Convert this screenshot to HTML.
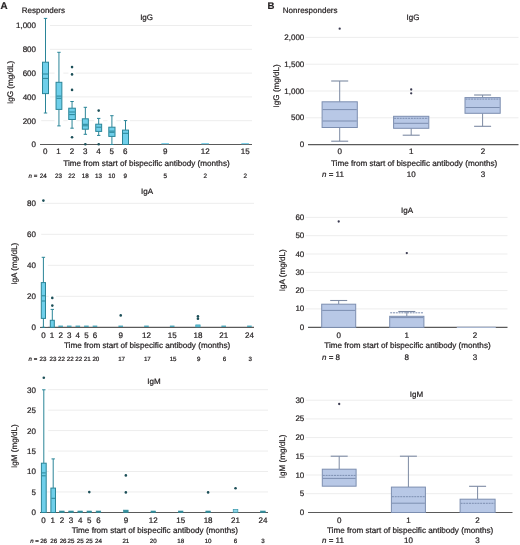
<!DOCTYPE html>
<html><head><meta charset="utf-8"><title>Immunoglobulin levels</title>
<style>
html,body{margin:0;padding:0;background:#fff;}
body{width:520px;height:545px;overflow:hidden;}
svg{display:block;font-family:"Liberation Sans", Arial, sans-serif;}
svg text{fill:#231f20;text-rendering:geometricPrecision;stroke:#231f20;stroke-width:0.22px;}
</style></head><body>
<svg width="520" height="545" viewBox="0 0 520 545">
<rect width="520" height="545" fill="#fff"/>
<text x="0.40" y="8.70" font-size="9.8" text-anchor="start" font-weight="bold">A</text>
<text x="21.80" y="13.40" font-size="8" text-anchor="start" >Responders</text>
<text x="267.40" y="8.80" font-size="9.6" text-anchor="start" font-weight="bold">B</text>
<text x="282.80" y="13.20" font-size="8" text-anchor="start" >Nonresponders</text>
<line x1="41.20" y1="25.50" x2="252.00" y2="25.50" stroke="#ededed" stroke-width="1" />
<text x="36.00" y="28.40" font-size="8" text-anchor="end" >1,000</text>
<line x1="41.20" y1="49.30" x2="252.00" y2="49.30" stroke="#ededed" stroke-width="1" />
<text x="36.00" y="52.20" font-size="8" text-anchor="end" >800</text>
<line x1="41.20" y1="73.10" x2="252.00" y2="73.10" stroke="#ededed" stroke-width="1" />
<text x="36.00" y="76.00" font-size="8" text-anchor="end" >600</text>
<line x1="41.20" y1="96.90" x2="252.00" y2="96.90" stroke="#ededed" stroke-width="1" />
<text x="36.00" y="99.80" font-size="8" text-anchor="end" >400</text>
<line x1="41.20" y1="120.70" x2="252.00" y2="120.70" stroke="#ededed" stroke-width="1" />
<text x="36.00" y="123.60" font-size="8" text-anchor="end" >200</text>
<text x="36.00" y="147.40" font-size="8" text-anchor="end" >0</text>
<line x1="40.00" y1="144.50" x2="252.00" y2="144.50" stroke="#5a5a5a" stroke-width="1.2" />
<text x="146.60" y="19.50" font-size="8" text-anchor="middle" >IgG</text>
<text x="13.00" y="82.40" font-size="8.1" text-anchor="middle" transform="rotate(-90 13.0 82.4)">IgG (mg/dL)</text>
<rect x="41.10" y="16.90" width="8.80" height="45.30" fill="#fff" stroke="none" stroke-width="0" />
<rect x="41.10" y="93.60" width="8.80" height="20.90" fill="#fff" stroke="none" stroke-width="0" />
<line x1="45.50" y1="18.40" x2="45.50" y2="62.20" stroke="#2a8598" stroke-width="1" />
<line x1="43.80" y1="18.40" x2="47.20" y2="18.40" stroke="#2a8598" stroke-width="1" />
<line x1="45.50" y1="93.60" x2="45.50" y2="113.00" stroke="#2a8598" stroke-width="1" />
<line x1="43.80" y1="113.00" x2="47.20" y2="113.00" stroke="#2a8598" stroke-width="1" />
<rect x="42.50" y="62.20" width="6.00" height="31.40" fill="#6fcfea" stroke="#2a8598" stroke-width="1" />
<line x1="43.00" y1="74.00" x2="48.00" y2="74.00" stroke="#2a8598" stroke-width="1" />
<line x1="43.00" y1="78.40" x2="48.00" y2="78.40" stroke="#2a8598" stroke-width="1" />
<rect x="54.55" y="50.80" width="8.80" height="31.50" fill="#fff" stroke="none" stroke-width="0" />
<rect x="54.55" y="109.40" width="8.80" height="18.00" fill="#fff" stroke="none" stroke-width="0" />
<line x1="58.95" y1="52.30" x2="58.95" y2="82.30" stroke="#2a8598" stroke-width="1" />
<line x1="57.25" y1="52.30" x2="60.65" y2="52.30" stroke="#2a8598" stroke-width="1" />
<line x1="58.95" y1="109.40" x2="58.95" y2="125.90" stroke="#2a8598" stroke-width="1" />
<line x1="57.25" y1="125.90" x2="60.65" y2="125.90" stroke="#2a8598" stroke-width="1" />
<rect x="56.05" y="82.30" width="5.80" height="27.10" fill="#6fcfea" stroke="#2a8598" stroke-width="1" />
<line x1="56.55" y1="96.10" x2="61.35" y2="96.10" stroke="#2a8598" stroke-width="1" />
<line x1="56.55" y1="98.30" x2="61.35" y2="98.30" stroke="#2a8598" stroke-width="1" />
<rect x="67.65" y="100.00" width="8.80" height="8.20" fill="#fff" stroke="none" stroke-width="0" />
<rect x="67.65" y="119.50" width="8.80" height="10.20" fill="#fff" stroke="none" stroke-width="0" />
<rect x="68.45" y="64.60" width="7.20" height="5.00" fill="#fff" stroke="none" stroke-width="0" />
<rect x="68.45" y="71.90" width="7.20" height="5.00" fill="#fff" stroke="none" stroke-width="0" />
<rect x="68.45" y="87.40" width="7.20" height="5.00" fill="#fff" stroke="none" stroke-width="0" />
<rect x="68.45" y="134.70" width="7.20" height="5.00" fill="#fff" stroke="none" stroke-width="0" />
<line x1="72.05" y1="101.50" x2="72.05" y2="108.20" stroke="#2a8598" stroke-width="1" />
<line x1="70.35" y1="101.50" x2="73.75" y2="101.50" stroke="#2a8598" stroke-width="1" />
<line x1="72.05" y1="119.50" x2="72.05" y2="128.20" stroke="#2a8598" stroke-width="1" />
<line x1="70.35" y1="128.20" x2="73.75" y2="128.20" stroke="#2a8598" stroke-width="1" />
<rect x="68.75" y="108.20" width="6.60" height="11.30" fill="#6fcfea" stroke="#2a8598" stroke-width="1" />
<line x1="69.25" y1="112.00" x2="74.85" y2="112.00" stroke="#2a8598" stroke-width="1" />
<line x1="69.25" y1="114.60" x2="74.85" y2="114.60" stroke="#2a8598" stroke-width="1" />
<circle cx="72.05" cy="67.10" r="1.3" fill="#1c4f58"/>
<circle cx="72.05" cy="74.40" r="1.3" fill="#1c4f58"/>
<circle cx="72.05" cy="89.90" r="1.3" fill="#1c4f58"/>
<circle cx="72.05" cy="137.20" r="1.3" fill="#1c4f58"/>
<rect x="80.95" y="105.80" width="8.80" height="13.00" fill="#fff" stroke="none" stroke-width="0" />
<rect x="80.95" y="129.20" width="8.80" height="6.60" fill="#fff" stroke="none" stroke-width="0" />
<line x1="85.35" y1="107.30" x2="85.35" y2="118.80" stroke="#2a8598" stroke-width="1" />
<line x1="83.65" y1="107.30" x2="87.05" y2="107.30" stroke="#2a8598" stroke-width="1" />
<line x1="85.35" y1="129.20" x2="85.35" y2="134.30" stroke="#2a8598" stroke-width="1" />
<line x1="83.65" y1="134.30" x2="87.05" y2="134.30" stroke="#2a8598" stroke-width="1" />
<rect x="82.35" y="118.80" width="6.00" height="10.40" fill="#6fcfea" stroke="#2a8598" stroke-width="1" />
<line x1="82.85" y1="124.30" x2="87.85" y2="124.30" stroke="#2a8598" stroke-width="1" />
<line x1="82.85" y1="125.80" x2="87.85" y2="125.80" stroke="#2a8598" stroke-width="1" />
<circle cx="85.35" cy="144.30" r="1.3" fill="#1c4f58"/>
<rect x="94.30" y="116.90" width="8.80" height="7.30" fill="#fff" stroke="none" stroke-width="0" />
<rect x="94.30" y="131.40" width="8.80" height="5.50" fill="#fff" stroke="none" stroke-width="0" />
<rect x="95.10" y="108.10" width="7.20" height="5.00" fill="#fff" stroke="none" stroke-width="0" />
<line x1="98.70" y1="118.40" x2="98.70" y2="124.20" stroke="#2a8598" stroke-width="1" />
<line x1="97.00" y1="118.40" x2="100.40" y2="118.40" stroke="#2a8598" stroke-width="1" />
<line x1="98.70" y1="131.40" x2="98.70" y2="135.40" stroke="#2a8598" stroke-width="1" />
<line x1="97.00" y1="135.40" x2="100.40" y2="135.40" stroke="#2a8598" stroke-width="1" />
<rect x="95.75" y="124.20" width="5.90" height="7.20" fill="#6fcfea" stroke="#2a8598" stroke-width="1" />
<line x1="96.25" y1="127.20" x2="101.15" y2="127.20" stroke="#2a8598" stroke-width="1" />
<circle cx="98.70" cy="110.60" r="1.3" fill="#1c4f58"/>
<circle cx="98.70" cy="144.30" r="1.3" fill="#1c4f58"/>
<rect x="107.50" y="114.20" width="8.80" height="13.00" fill="#fff" stroke="none" stroke-width="0" />
<rect x="107.50" y="136.40" width="8.80" height="7.40" fill="#fff" stroke="none" stroke-width="0" />
<line x1="111.90" y1="115.70" x2="111.90" y2="127.20" stroke="#2a8598" stroke-width="1" />
<line x1="110.20" y1="115.70" x2="113.60" y2="115.70" stroke="#2a8598" stroke-width="1" />
<line x1="111.90" y1="136.40" x2="111.90" y2="144.50" stroke="#2a8598" stroke-width="1" />
<line x1="110.20" y1="144.50" x2="113.60" y2="144.50" stroke="#2a8598" stroke-width="1" />
<rect x="108.80" y="127.20" width="6.20" height="9.20" fill="#6fcfea" stroke="#2a8598" stroke-width="1" />
<line x1="109.30" y1="131.10" x2="114.50" y2="131.10" stroke="#2a8598" stroke-width="1" />
<line x1="109.30" y1="132.30" x2="114.50" y2="132.30" stroke="#2a8598" stroke-width="1" />
<rect x="121.10" y="119.10" width="8.80" height="11.00" fill="#fff" stroke="none" stroke-width="0" />
<line x1="125.50" y1="120.60" x2="125.50" y2="130.10" stroke="#2a8598" stroke-width="1" />
<line x1="123.80" y1="120.60" x2="127.20" y2="120.60" stroke="#2a8598" stroke-width="1" />
<rect x="122.50" y="130.10" width="6.00" height="14.40" fill="#6fcfea" stroke="#2a8598" stroke-width="1" />
<line x1="123.00" y1="133.30" x2="128.00" y2="133.30" stroke="#2a8598" stroke-width="1" />
<rect x="161.37" y="143.00" width="7.60" height="1.20" fill="#7fd2ea" stroke="none" stroke-width="0" />
<rect x="201.36" y="143.00" width="7.60" height="1.20" fill="#7fd2ea" stroke="none" stroke-width="0" />
<rect x="241.35" y="143.00" width="7.60" height="1.20" fill="#7fd2ea" stroke="none" stroke-width="0" />
<text x="45.20" y="154.00" font-size="8" text-anchor="middle" >0</text>
<text x="58.53" y="154.00" font-size="8" text-anchor="middle" >1</text>
<text x="71.86" y="154.00" font-size="8" text-anchor="middle" >2</text>
<text x="85.19" y="154.00" font-size="8" text-anchor="middle" >3</text>
<text x="98.52" y="154.00" font-size="8" text-anchor="middle" >4</text>
<text x="111.85" y="154.00" font-size="8" text-anchor="middle" >5</text>
<text x="125.18" y="154.00" font-size="8" text-anchor="middle" >6</text>
<text x="165.17" y="154.00" font-size="8" text-anchor="middle" >9</text>
<text x="205.16" y="154.00" font-size="8" text-anchor="middle" >12</text>
<text x="245.15" y="154.00" font-size="8" text-anchor="middle" >15</text>
<text x="146.50" y="165.50" font-size="8.15" text-anchor="middle" >Time from start of bispecific antibody (months)</text>
<text x="28.60" y="177.60" font-size="6.2" text-anchor="start" ><tspan font-style="italic">n</tspan> =</text>
<text x="43.30" y="177.60" font-size="6.3" text-anchor="middle" >24</text>
<text x="58.53" y="177.60" font-size="6.3" text-anchor="middle" >23</text>
<text x="71.86" y="177.60" font-size="6.3" text-anchor="middle" >22</text>
<text x="85.19" y="177.60" font-size="6.3" text-anchor="middle" >18</text>
<text x="98.52" y="177.60" font-size="6.3" text-anchor="middle" >13</text>
<text x="111.85" y="177.60" font-size="6.3" text-anchor="middle" >10</text>
<text x="125.18" y="177.60" font-size="6.3" text-anchor="middle" >9</text>
<text x="165.17" y="177.60" font-size="6.3" text-anchor="middle" >5</text>
<text x="205.16" y="177.60" font-size="6.3" text-anchor="middle" >2</text>
<text x="245.15" y="177.60" font-size="6.3" text-anchor="middle" >2</text>
<line x1="41.20" y1="203.30" x2="254.00" y2="203.30" stroke="#ededed" stroke-width="1" />
<text x="36.00" y="206.20" font-size="8" text-anchor="end" >80</text>
<line x1="41.20" y1="234.30" x2="254.00" y2="234.30" stroke="#ededed" stroke-width="1" />
<text x="36.00" y="237.20" font-size="8" text-anchor="end" >60</text>
<line x1="41.20" y1="265.30" x2="254.00" y2="265.30" stroke="#ededed" stroke-width="1" />
<text x="36.00" y="268.20" font-size="8" text-anchor="end" >40</text>
<line x1="41.20" y1="296.30" x2="254.00" y2="296.30" stroke="#ededed" stroke-width="1" />
<text x="36.00" y="299.20" font-size="8" text-anchor="end" >20</text>
<text x="36.00" y="330.20" font-size="8" text-anchor="end" >0</text>
<line x1="40.00" y1="327.30" x2="254.00" y2="327.30" stroke="#5a5a5a" stroke-width="1.2" />
<text x="147.00" y="193.90" font-size="8" text-anchor="middle" >IgA</text>
<text x="16.90" y="263.80" font-size="8.1" text-anchor="middle" transform="rotate(-90 16.9 263.8)">IgA (mg/dL)</text>
<rect x="39.00" y="255.80" width="8.80" height="26.80" fill="#fff" stroke="none" stroke-width="0" />
<rect x="39.00" y="318.40" width="8.80" height="8.20" fill="#fff" stroke="none" stroke-width="0" />
<rect x="39.80" y="198.10" width="7.20" height="5.00" fill="#fff" stroke="none" stroke-width="0" />
<line x1="43.40" y1="257.30" x2="43.40" y2="282.60" stroke="#2a8598" stroke-width="1" />
<line x1="41.70" y1="257.30" x2="45.10" y2="257.30" stroke="#2a8598" stroke-width="1" />
<line x1="43.40" y1="318.40" x2="43.40" y2="327.30" stroke="#2a8598" stroke-width="1" />
<line x1="41.70" y1="327.30" x2="45.10" y2="327.30" stroke="#2a8598" stroke-width="1" />
<rect x="41.30" y="282.60" width="4.20" height="35.80" fill="#6fcfea" stroke="#2a8598" stroke-width="1" />
<line x1="41.80" y1="295.80" x2="45.00" y2="295.80" stroke="#2a8598" stroke-width="1" />
<line x1="41.80" y1="301.00" x2="45.00" y2="301.00" stroke="#2a8598" stroke-width="1" />
<circle cx="43.40" cy="200.60" r="1.3" fill="#1c4f58"/>
<rect x="47.90" y="307.90" width="8.80" height="12.40" fill="#fff" stroke="none" stroke-width="0" />
<rect x="48.70" y="295.40" width="7.20" height="5.00" fill="#fff" stroke="none" stroke-width="0" />
<rect x="48.70" y="303.10" width="7.20" height="5.00" fill="#fff" stroke="none" stroke-width="0" />
<line x1="52.30" y1="309.40" x2="52.30" y2="320.30" stroke="#2a8598" stroke-width="1" />
<line x1="50.60" y1="309.40" x2="54.00" y2="309.40" stroke="#2a8598" stroke-width="1" />
<rect x="50.30" y="320.30" width="4.00" height="7.00" fill="#6fcfea" stroke="#2a8598" stroke-width="1" />
<circle cx="52.30" cy="297.90" r="1.3" fill="#1c4f58"/>
<circle cx="52.30" cy="305.60" r="1.3" fill="#1c4f58"/>
<rect x="58.36" y="325.60" width="4.60" height="1.30" fill="#3d9fb3" stroke="none" stroke-width="0" />
<rect x="66.94" y="325.60" width="4.60" height="1.30" fill="#3d9fb3" stroke="none" stroke-width="0" />
<rect x="75.52" y="325.60" width="4.60" height="1.30" fill="#3d9fb3" stroke="none" stroke-width="0" />
<rect x="84.10" y="325.60" width="4.60" height="1.30" fill="#3d9fb3" stroke="none" stroke-width="0" />
<rect x="92.68" y="325.60" width="4.60" height="1.30" fill="#3d9fb3" stroke="none" stroke-width="0" />
<rect x="118.42" y="325.60" width="4.60" height="1.30" fill="#3d9fb3" stroke="none" stroke-width="0" />
<rect x="144.16" y="325.60" width="4.60" height="1.30" fill="#3d9fb3" stroke="none" stroke-width="0" />
<rect x="169.90" y="325.60" width="4.60" height="1.30" fill="#3d9fb3" stroke="none" stroke-width="0" />
<rect x="221.38" y="325.60" width="4.60" height="1.30" fill="#3d9fb3" stroke="none" stroke-width="0" />
<rect x="247.12" y="325.60" width="4.60" height="1.30" fill="#3d9fb3" stroke="none" stroke-width="0" />
<rect x="195.74" y="324.90" width="4.40" height="2.00" fill="#5cc0da" stroke="#3d9fb3" stroke-width="0.7" />
<circle cx="120.72" cy="315.40" r="1.3" fill="#1c4f58"/>
<circle cx="197.94" cy="316.40" r="1.3" fill="#1c4f58"/>
<circle cx="197.94" cy="318.80" r="1.3" fill="#1c4f58"/>
<text x="43.50" y="338.30" font-size="8" text-anchor="middle" >0</text>
<text x="52.08" y="338.30" font-size="8" text-anchor="middle" >1</text>
<text x="60.66" y="338.30" font-size="8" text-anchor="middle" >2</text>
<text x="69.24" y="338.30" font-size="8" text-anchor="middle" >3</text>
<text x="77.82" y="338.30" font-size="8" text-anchor="middle" >4</text>
<text x="86.40" y="338.30" font-size="8" text-anchor="middle" >5</text>
<text x="94.98" y="338.30" font-size="8" text-anchor="middle" >6</text>
<text x="120.72" y="338.30" font-size="8" text-anchor="middle" >9</text>
<text x="146.46" y="338.30" font-size="8" text-anchor="middle" >12</text>
<text x="172.20" y="338.30" font-size="8" text-anchor="middle" >15</text>
<text x="197.94" y="338.30" font-size="8" text-anchor="middle" >18</text>
<text x="223.68" y="338.30" font-size="8" text-anchor="middle" >21</text>
<text x="249.42" y="338.30" font-size="8" text-anchor="middle" >24</text>
<text x="147.10" y="348.00" font-size="8.15" text-anchor="middle" >Time from start of bispecific antibody (months)</text>
<text x="28.60" y="360.50" font-size="6.1" text-anchor="start" ><tspan font-style="italic">n</tspan> =</text>
<text x="42.90" y="360.50" font-size="6.2" text-anchor="middle" >23</text>
<text x="52.98" y="360.50" font-size="6.2" text-anchor="middle" >23</text>
<text x="61.56" y="360.50" font-size="6.2" text-anchor="middle" >22</text>
<text x="70.14" y="360.50" font-size="6.2" text-anchor="middle" >22</text>
<text x="78.72" y="360.50" font-size="6.2" text-anchor="middle" >22</text>
<text x="87.30" y="360.50" font-size="6.2" text-anchor="middle" >21</text>
<text x="95.88" y="360.50" font-size="6.2" text-anchor="middle" >20</text>
<text x="121.62" y="360.50" font-size="6.2" text-anchor="middle" >17</text>
<text x="147.36" y="360.50" font-size="6.2" text-anchor="middle" >17</text>
<text x="173.10" y="360.50" font-size="6.2" text-anchor="middle" >15</text>
<text x="198.84" y="360.50" font-size="6.2" text-anchor="middle" >9</text>
<text x="224.58" y="360.50" font-size="6.2" text-anchor="middle" >6</text>
<text x="250.32" y="360.50" font-size="6.2" text-anchor="middle" >3</text>
<line x1="41.20" y1="389.70" x2="268.00" y2="389.70" stroke="#ededed" stroke-width="1" />
<text x="36.00" y="392.60" font-size="8" text-anchor="end" >30</text>
<line x1="41.20" y1="410.15" x2="268.00" y2="410.15" stroke="#ededed" stroke-width="1" />
<text x="36.00" y="413.05" font-size="8" text-anchor="end" >25</text>
<line x1="41.20" y1="430.60" x2="268.00" y2="430.60" stroke="#ededed" stroke-width="1" />
<text x="36.00" y="433.50" font-size="8" text-anchor="end" >20</text>
<line x1="41.20" y1="451.05" x2="268.00" y2="451.05" stroke="#ededed" stroke-width="1" />
<text x="36.00" y="453.95" font-size="8" text-anchor="end" >15</text>
<line x1="41.20" y1="471.50" x2="268.00" y2="471.50" stroke="#ededed" stroke-width="1" />
<text x="36.00" y="474.40" font-size="8" text-anchor="end" >10</text>
<line x1="41.20" y1="491.95" x2="268.00" y2="491.95" stroke="#ededed" stroke-width="1" />
<text x="36.00" y="494.85" font-size="8" text-anchor="end" >5</text>
<text x="36.00" y="515.30" font-size="8" text-anchor="end" >0</text>
<line x1="40.00" y1="512.50" x2="268.00" y2="512.50" stroke="#5a5a5a" stroke-width="1.2" />
<text x="154.00" y="384.20" font-size="8" text-anchor="middle" >IgM</text>
<text x="16.80" y="446.20" font-size="8.1" text-anchor="middle" transform="rotate(-90 16.8 446.2)">IgM (mg/dL)</text>
<rect x="39.40" y="388.30" width="8.80" height="74.90" fill="#fff" stroke="none" stroke-width="0" />
<rect x="40.20" y="375.20" width="7.20" height="5.00" fill="#fff" stroke="none" stroke-width="0" />
<line x1="43.80" y1="389.80" x2="43.80" y2="463.20" stroke="#2a8598" stroke-width="1" />
<line x1="42.10" y1="389.80" x2="45.50" y2="389.80" stroke="#2a8598" stroke-width="1" />
<rect x="41.40" y="463.20" width="4.80" height="49.30" fill="#6fcfea" stroke="#2a8598" stroke-width="1" />
<line x1="41.90" y1="472.90" x2="45.70" y2="472.90" stroke="#2a8598" stroke-width="1" />
<line x1="41.90" y1="475.80" x2="45.70" y2="475.80" stroke="#2a8598" stroke-width="1" />
<circle cx="43.80" cy="377.70" r="1.3" fill="#1c4f58"/>
<rect x="48.80" y="457.40" width="8.80" height="30.70" fill="#fff" stroke="none" stroke-width="0" />
<line x1="53.20" y1="458.90" x2="53.20" y2="488.10" stroke="#2a8598" stroke-width="1" />
<line x1="51.50" y1="458.90" x2="54.90" y2="458.90" stroke="#2a8598" stroke-width="1" />
<rect x="50.90" y="488.10" width="4.60" height="24.40" fill="#6fcfea" stroke="#2a8598" stroke-width="1" />
<line x1="51.40" y1="498.30" x2="55.00" y2="498.30" stroke="#2a8598" stroke-width="1" />
<rect x="59.58" y="511.00" width="4.60" height="1.50" fill="#35919f" stroke="#2f8a98" stroke-width="0.6" />
<rect x="68.72" y="511.00" width="4.60" height="1.50" fill="#35919f" stroke="#2f8a98" stroke-width="0.6" />
<rect x="77.86" y="511.00" width="4.60" height="1.50" fill="#35919f" stroke="#2f8a98" stroke-width="0.6" />
<rect x="87.00" y="511.00" width="4.60" height="1.50" fill="#35919f" stroke="#2f8a98" stroke-width="0.6" />
<rect x="96.14" y="511.00" width="4.60" height="1.50" fill="#35919f" stroke="#2f8a98" stroke-width="0.6" />
<rect x="150.98" y="511.00" width="4.60" height="1.50" fill="#35919f" stroke="#2f8a98" stroke-width="0.6" />
<rect x="178.40" y="511.00" width="4.60" height="1.50" fill="#35919f" stroke="#2f8a98" stroke-width="0.6" />
<rect x="205.82" y="511.00" width="4.60" height="1.50" fill="#35919f" stroke="#2f8a98" stroke-width="0.6" />
<rect x="260.66" y="511.00" width="4.60" height="1.50" fill="#35919f" stroke="#2f8a98" stroke-width="0.6" />
<rect x="123.56" y="510.10" width="4.60" height="2.40" fill="#35919f" stroke="#2f8a98" stroke-width="0.6" />
<rect x="233.24" y="509.40" width="4.60" height="2.90" fill="#8fd6ea" stroke="#3a98ab" stroke-width="0.7" />
<circle cx="89.30" cy="492.10" r="1.3" fill="#1c4f58"/>
<circle cx="125.86" cy="475.40" r="1.3" fill="#1c4f58"/>
<circle cx="125.86" cy="492.40" r="1.3" fill="#1c4f58"/>
<circle cx="208.12" cy="492.40" r="1.3" fill="#1c4f58"/>
<circle cx="235.54" cy="488.30" r="1.3" fill="#1c4f58"/>
<text x="43.60" y="523.30" font-size="8" text-anchor="middle" >0</text>
<text x="52.74" y="523.30" font-size="8" text-anchor="middle" >1</text>
<text x="61.88" y="523.30" font-size="8" text-anchor="middle" >2</text>
<text x="71.02" y="523.30" font-size="8" text-anchor="middle" >3</text>
<text x="80.16" y="523.30" font-size="8" text-anchor="middle" >4</text>
<text x="89.30" y="523.30" font-size="8" text-anchor="middle" >5</text>
<text x="98.44" y="523.30" font-size="8" text-anchor="middle" >6</text>
<text x="125.86" y="523.30" font-size="8" text-anchor="middle" >9</text>
<text x="153.28" y="523.30" font-size="8" text-anchor="middle" >12</text>
<text x="180.70" y="523.30" font-size="8" text-anchor="middle" >15</text>
<text x="208.12" y="523.30" font-size="8" text-anchor="middle" >18</text>
<text x="235.54" y="523.30" font-size="8" text-anchor="middle" >21</text>
<text x="262.96" y="523.30" font-size="8" text-anchor="middle" >24</text>
<text x="154.80" y="533.00" font-size="8.15" text-anchor="middle" >Time from start of bispecific antibody (months)</text>
<text x="30.20" y="543.10" font-size="6.1" text-anchor="start" ><tspan font-style="italic">n</tspan> =</text>
<text x="43.60" y="543.10" font-size="6.2" text-anchor="middle" >26</text>
<text x="53.74" y="543.10" font-size="6.2" text-anchor="middle" >26</text>
<text x="63.08" y="543.10" font-size="6.2" text-anchor="middle" >26</text>
<text x="71.02" y="543.10" font-size="6.2" text-anchor="middle" >25</text>
<text x="80.16" y="543.10" font-size="6.2" text-anchor="middle" >25</text>
<text x="89.30" y="543.10" font-size="6.2" text-anchor="middle" >25</text>
<text x="98.44" y="543.10" font-size="6.2" text-anchor="middle" >24</text>
<text x="125.86" y="543.10" font-size="6.2" text-anchor="middle" >21</text>
<text x="153.28" y="543.10" font-size="6.2" text-anchor="middle" >20</text>
<text x="180.70" y="543.10" font-size="6.2" text-anchor="middle" >18</text>
<text x="208.12" y="543.10" font-size="6.2" text-anchor="middle" >10</text>
<text x="235.54" y="543.10" font-size="6.2" text-anchor="middle" >6</text>
<text x="262.96" y="543.10" font-size="6.2" text-anchor="middle" >3</text>
<line x1="305.50" y1="37.40" x2="518.50" y2="37.40" stroke="#ededed" stroke-width="1" />
<text x="304.30" y="39.90" font-size="8" text-anchor="end" >2,000</text>
<line x1="305.50" y1="64.20" x2="518.50" y2="64.20" stroke="#ededed" stroke-width="1" />
<text x="304.30" y="66.70" font-size="8" text-anchor="end" >1,500</text>
<line x1="305.50" y1="91.00" x2="518.50" y2="91.00" stroke="#ededed" stroke-width="1" />
<text x="304.30" y="93.50" font-size="8" text-anchor="end" >1,000</text>
<line x1="305.50" y1="117.80" x2="518.50" y2="117.80" stroke="#ededed" stroke-width="1" />
<text x="304.30" y="120.30" font-size="8" text-anchor="end" >500</text>
<text x="304.30" y="147.10" font-size="8" text-anchor="end" >0</text>
<line x1="308.00" y1="144.60" x2="518.50" y2="144.60" stroke="#5a5a5a" stroke-width="1.2" />
<text x="413.00" y="20.00" font-size="8" text-anchor="middle" >IgG</text>
<text x="278.60" y="85.80" font-size="8.1" text-anchor="middle" transform="rotate(-90 278.6 85.8)">IgG (mg/dL)</text>
<line x1="339.70" y1="81.00" x2="339.70" y2="101.80" stroke="#7d8aa3" stroke-width="1" />
<line x1="331.20" y1="81.00" x2="348.20" y2="81.00" stroke="#7d8aa3" stroke-width="1.1" />
<line x1="339.70" y1="127.50" x2="339.70" y2="141.20" stroke="#7d8aa3" stroke-width="1" />
<line x1="331.20" y1="141.20" x2="348.20" y2="141.20" stroke="#7d8aa3" stroke-width="1.1" />
<rect x="322.10" y="101.80" width="35.20" height="25.70" fill="#b8c8e6" stroke="#7c8eb0" stroke-width="1" />
<line x1="322.60" y1="109.60" x2="356.80" y2="109.60" stroke="#7c8eb0" stroke-width="1" />
<line x1="322.60" y1="121.00" x2="356.80" y2="121.00" stroke="#7c8eb0" stroke-width="1" />
<circle cx="339.70" cy="28.70" r="1.15" fill="#3a3a50"/>
<line x1="411.20" y1="128.30" x2="411.20" y2="135.20" stroke="#7d8aa3" stroke-width="1" />
<line x1="402.70" y1="135.20" x2="419.70" y2="135.20" stroke="#7d8aa3" stroke-width="1.1" />
<rect x="393.60" y="116.30" width="35.20" height="12.00" fill="#b8c8e6" stroke="#7c8eb0" stroke-width="1" />
<line x1="394.10" y1="123.30" x2="428.30" y2="123.30" stroke="#7c8eb0" stroke-width="1" />
<line x1="394.10" y1="118.30" x2="428.30" y2="118.30" stroke="#7c8eb0" stroke-width="1" stroke-dasharray="2 0.8"/>
<circle cx="411.20" cy="89.50" r="1.15" fill="#3a3a50"/>
<circle cx="411.20" cy="93.30" r="1.15" fill="#3a3a50"/>
<line x1="482.60" y1="95.00" x2="482.60" y2="97.60" stroke="#7d8aa3" stroke-width="1" />
<line x1="474.10" y1="95.00" x2="491.10" y2="95.00" stroke="#7d8aa3" stroke-width="1.1" />
<line x1="482.60" y1="113.30" x2="482.60" y2="126.30" stroke="#7d8aa3" stroke-width="1" />
<line x1="474.10" y1="126.30" x2="491.10" y2="126.30" stroke="#7d8aa3" stroke-width="1.1" />
<rect x="465.00" y="97.60" width="35.20" height="15.70" fill="#b8c8e6" stroke="#7c8eb0" stroke-width="1" />
<line x1="465.50" y1="107.50" x2="499.70" y2="107.50" stroke="#7c8eb0" stroke-width="1" />
<line x1="465.50" y1="99.10" x2="499.70" y2="99.10" stroke="#7c8eb0" stroke-width="1" stroke-dasharray="2 0.8"/>
<text x="339.70" y="154.00" font-size="8" text-anchor="middle" >0</text>
<text x="411.30" y="154.00" font-size="8" text-anchor="middle" >1</text>
<text x="482.90" y="154.00" font-size="8" text-anchor="middle" >2</text>
<text x="414.10" y="165.60" font-size="8.15" text-anchor="middle" >Time from start of bispecific antibody (months)</text>
<text x="322.00" y="177.00" font-size="8" text-anchor="start" ><tspan font-style="italic">n</tspan> = 11</text>
<text x="411.30" y="177.00" font-size="8" text-anchor="middle" >10</text>
<text x="482.90" y="177.00" font-size="8" text-anchor="middle" >3</text>
<line x1="305.50" y1="217.40" x2="507.50" y2="217.40" stroke="#ededed" stroke-width="1" />
<text x="304.30" y="219.90" font-size="8" text-anchor="end" >60</text>
<line x1="305.50" y1="235.70" x2="507.50" y2="235.70" stroke="#ededed" stroke-width="1" />
<text x="304.30" y="238.20" font-size="8" text-anchor="end" >50</text>
<line x1="305.50" y1="254.00" x2="507.50" y2="254.00" stroke="#ededed" stroke-width="1" />
<text x="304.30" y="256.50" font-size="8" text-anchor="end" >40</text>
<line x1="305.50" y1="272.30" x2="507.50" y2="272.30" stroke="#ededed" stroke-width="1" />
<text x="304.30" y="274.80" font-size="8" text-anchor="end" >30</text>
<line x1="305.50" y1="290.60" x2="507.50" y2="290.60" stroke="#ededed" stroke-width="1" />
<text x="304.30" y="293.10" font-size="8" text-anchor="end" >20</text>
<line x1="305.50" y1="308.90" x2="507.50" y2="308.90" stroke="#ededed" stroke-width="1" />
<text x="304.30" y="311.40" font-size="8" text-anchor="end" >10</text>
<text x="304.30" y="329.70" font-size="8" text-anchor="end" >0</text>
<line x1="308.00" y1="327.40" x2="507.50" y2="327.40" stroke="#5a5a5a" stroke-width="1.2" />
<text x="407.00" y="213.20" font-size="8" text-anchor="middle" >IgA</text>
<text x="285.00" y="270.30" font-size="8.1" text-anchor="middle" transform="rotate(-90 285.0 270.3)">IgA (mg/dL)</text>
<line x1="338.70" y1="300.50" x2="338.70" y2="304.20" stroke="#7d8aa3" stroke-width="1" />
<line x1="330.20" y1="300.50" x2="347.20" y2="300.50" stroke="#7d8aa3" stroke-width="1.1" />
<rect x="321.70" y="304.20" width="34.00" height="23.20" fill="#b8c8e6" stroke="#7c8eb0" stroke-width="1" />
<line x1="322.20" y1="310.40" x2="355.20" y2="310.40" stroke="#7c8eb0" stroke-width="1" />
<circle cx="338.70" cy="221.50" r="1.15" fill="#3a3a50"/>
<line x1="406.80" y1="311.50" x2="406.80" y2="316.30" stroke="#7d8aa3" stroke-width="1" />
<line x1="398.30" y1="311.50" x2="415.30" y2="311.50" stroke="#7d8aa3" stroke-width="1.1" />
<rect x="389.70" y="316.30" width="34.20" height="11.10" fill="#b8c8e6" stroke="#7c8eb0" stroke-width="1" />
<line x1="390.20" y1="317.60" x2="423.40" y2="317.60" stroke="#7c8eb0" stroke-width="1" />
<line x1="390.20" y1="312.80" x2="423.40" y2="312.80" stroke="#7c8eb0" stroke-width="1" stroke-dasharray="2 0.8"/>
<circle cx="406.80" cy="253.10" r="1.15" fill="#3a3a50"/>
<rect x="456.80" y="326.70" width="39.00" height="1.30" fill="#a9b7d0" stroke="none" stroke-width="0" />
<text x="338.70" y="338.30" font-size="8" text-anchor="middle" >0</text>
<text x="406.80" y="338.30" font-size="8" text-anchor="middle" >1</text>
<text x="474.90" y="338.30" font-size="8" text-anchor="middle" >2</text>
<text x="407.50" y="348.30" font-size="8.15" text-anchor="middle" >Time from start of bispecific antibody (months)</text>
<text x="322.00" y="360.00" font-size="8" text-anchor="start" ><tspan font-style="italic">n</tspan> = 8</text>
<text x="406.80" y="360.00" font-size="8" text-anchor="middle" >8</text>
<text x="474.90" y="360.00" font-size="8" text-anchor="middle" >3</text>
<line x1="305.50" y1="400.20" x2="512.50" y2="400.20" stroke="#ededed" stroke-width="1" />
<text x="304.30" y="402.70" font-size="8" text-anchor="end" >30</text>
<line x1="305.50" y1="418.90" x2="512.50" y2="418.90" stroke="#ededed" stroke-width="1" />
<text x="304.30" y="421.40" font-size="8" text-anchor="end" >25</text>
<line x1="305.50" y1="437.60" x2="512.50" y2="437.60" stroke="#ededed" stroke-width="1" />
<text x="304.30" y="440.10" font-size="8" text-anchor="end" >20</text>
<line x1="305.50" y1="456.30" x2="512.50" y2="456.30" stroke="#ededed" stroke-width="1" />
<text x="304.30" y="458.80" font-size="8" text-anchor="end" >15</text>
<line x1="305.50" y1="475.00" x2="512.50" y2="475.00" stroke="#ededed" stroke-width="1" />
<text x="304.30" y="477.50" font-size="8" text-anchor="end" >10</text>
<line x1="305.50" y1="493.70" x2="512.50" y2="493.70" stroke="#ededed" stroke-width="1" />
<text x="304.30" y="496.20" font-size="8" text-anchor="end" >5</text>
<text x="304.30" y="514.90" font-size="8" text-anchor="end" >0</text>
<line x1="308.00" y1="512.50" x2="512.50" y2="512.50" stroke="#5a5a5a" stroke-width="1.2" />
<text x="416.40" y="397.00" font-size="8" text-anchor="middle" >IgM</text>
<text x="284.80" y="456.40" font-size="8.1" text-anchor="middle" transform="rotate(-90 284.8 456.4)">IgM (mg/dL)</text>
<line x1="339.20" y1="456.20" x2="339.20" y2="469.20" stroke="#7d8aa3" stroke-width="1" />
<line x1="330.70" y1="456.20" x2="347.70" y2="456.20" stroke="#7d8aa3" stroke-width="1.1" />
<rect x="322.30" y="469.20" width="33.80" height="17.00" fill="#b8c8e6" stroke="#7c8eb0" stroke-width="1" />
<line x1="322.80" y1="478.40" x2="355.60" y2="478.40" stroke="#7c8eb0" stroke-width="1" />
<line x1="322.80" y1="475.40" x2="355.60" y2="475.40" stroke="#7c8eb0" stroke-width="1" stroke-dasharray="2 0.8"/>
<circle cx="339.20" cy="404.00" r="1.15" fill="#3a3a50"/>
<line x1="408.40" y1="456.20" x2="408.40" y2="487.10" stroke="#7d8aa3" stroke-width="1" />
<line x1="399.90" y1="456.20" x2="416.90" y2="456.20" stroke="#7d8aa3" stroke-width="1.1" />
<rect x="391.40" y="487.10" width="34.00" height="25.40" fill="#b8c8e6" stroke="#7c8eb0" stroke-width="1" />
<line x1="391.90" y1="503.20" x2="424.90" y2="503.20" stroke="#7c8eb0" stroke-width="1" />
<line x1="391.90" y1="496.70" x2="424.90" y2="496.70" stroke="#7c8eb0" stroke-width="1" stroke-dasharray="2 0.8"/>
<line x1="477.60" y1="486.30" x2="477.60" y2="499.20" stroke="#7d8aa3" stroke-width="1" />
<line x1="469.10" y1="486.30" x2="486.10" y2="486.30" stroke="#7d8aa3" stroke-width="1.1" />
<rect x="460.10" y="499.20" width="35.00" height="13.30" fill="#b8c8e6" stroke="#7c8eb0" stroke-width="1" />
<line x1="460.60" y1="503.30" x2="494.60" y2="503.30" stroke="#7c8eb0" stroke-width="1" stroke-dasharray="2 0.8"/>
<text x="339.20" y="522.80" font-size="8" text-anchor="middle" >0</text>
<text x="408.40" y="522.80" font-size="8" text-anchor="middle" >1</text>
<text x="477.60" y="522.80" font-size="8" text-anchor="middle" >2</text>
<text x="410.10" y="532.80" font-size="8.15" text-anchor="middle" >Time from start of bispecific antibody (months)</text>
<text x="322.00" y="542.80" font-size="8" text-anchor="start" ><tspan font-style="italic">n</tspan> = 11</text>
<text x="408.40" y="542.80" font-size="8" text-anchor="middle" >10</text>
<text x="477.60" y="542.80" font-size="8" text-anchor="middle" >3</text>
</svg>
</body></html>
